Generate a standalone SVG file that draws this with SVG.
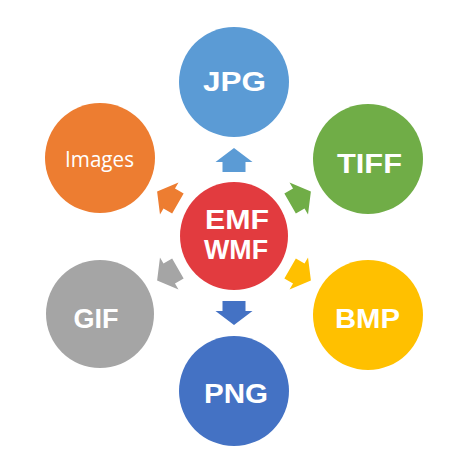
<svg xmlns="http://www.w3.org/2000/svg" width="474" height="474" viewBox="0 0 474 474">
<defs>
<style>
.lbl{font-family:"Liberation Sans",Arial,sans-serif;font-weight:bold;font-size:27px;fill:#fff;text-anchor:middle}
.lbl2{font-family:"Open Sans","Liberation Sans",sans-serif;font-size:21px;fill:#fff;text-anchor:middle}
</style>
<path id="arr" d="M0,-12 L18.5,2 L11.5,2 L11.5,12 L-11.5,12 L-11.5,2 L-18.5,2 Z"/>
</defs>
<rect width="474" height="474" fill="#fff"/>
<g id="connectors">
<use href="#arr" fill="#5B9BD5" transform="translate(234,160)"/>
<use href="#arr" fill="#70AD47" transform="translate(300.5,197.5) rotate(60)"/>
<use href="#arr" fill="#FFC000" transform="translate(300.5,274.5) rotate(120)"/>
<use href="#arr" fill="#4472C4" transform="translate(234,313) rotate(180)"/>
<use href="#arr" fill="#A5A5A5" transform="translate(167.5,274.5) rotate(240)"/>
<use href="#arr" fill="#ED7D31" transform="translate(167.5,197.5) rotate(300)"/>
</g>
<g id="center">
<circle cx="234" cy="236" r="54" fill="#E23B3F"/>
<text class="lbl" x="237" y="229" textLength="64" lengthAdjust="spacingAndGlyphs">EMF</text>
<text class="lbl" x="236" y="259" textLength="64" lengthAdjust="spacingAndGlyphs">WMF</text>
</g>
<g id="jpg">
<circle cx="234" cy="82" r="55" fill="#5B9BD5"/>
<text class="lbl" x="234.5" y="91" textLength="63" lengthAdjust="spacingAndGlyphs">JPG</text>
</g>
<g id="tiff">
<circle cx="368" cy="159" r="55" fill="#70AD47"/>
<text class="lbl" x="369.5" y="173" textLength="65" lengthAdjust="spacingAndGlyphs">TIFF</text>
</g>
<g id="bmp">
<circle cx="368" cy="315" r="55" fill="#FFC000"/>
<text class="lbl" x="367.5" y="328" textLength="65" lengthAdjust="spacingAndGlyphs">BMP</text>
</g>
<g id="png">
<circle cx="234" cy="391" r="55" fill="#4472C4"/>
<text class="lbl" x="236" y="403" textLength="64" lengthAdjust="spacingAndGlyphs">PNG</text>
</g>
<g id="gif">
<circle cx="100" cy="314" r="54" fill="#A5A5A5"/>
<text class="lbl" x="96" y="328" textLength="45" lengthAdjust="spacingAndGlyphs">GIF</text>
</g>
<g id="images">
<circle cx="100" cy="158" r="55" fill="#ED7D31"/>
<text class="lbl2" x="99.5" y="167" textLength="69" lengthAdjust="spacingAndGlyphs">Images</text>
</g>
</svg>
